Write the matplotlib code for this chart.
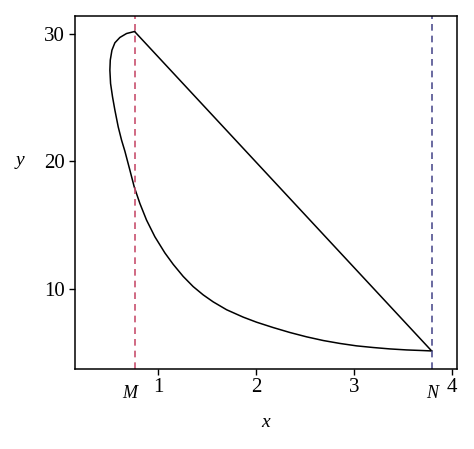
import numpy as np
import matplotlib
matplotlib.use("Agg")
import matplotlib.pyplot as plt

plt.rcParams['font.family'] = ['Liberation Serif', 'DejaVu Serif']

# loop curve (from peak, round the left, down to N)
curve_x = [0.759, 0.677, 0.609, 0.558, 0.528, 0.511, 0.507, 0.514, 0.534, 0.558,
           0.592, 0.626, 0.660, 0.711, 0.755, 0.813, 0.881, 0.966, 1.068, 1.153,
           1.255, 1.357, 1.459, 1.561, 1.698, 1.867, 2.004, 2.173, 2.344, 2.514,
           2.684, 2.854, 3.024, 3.194, 3.364, 3.535, 3.704, 3.79]
curve_y = [30.21, 30.05, 29.74, 29.32, 28.74, 27.96, 27.17, 26.12, 25.07, 24.03,
           22.71, 21.67, 20.80, 19.31, 18.0, 16.69, 15.38, 14.07, 12.80, 11.90,
           10.95, 10.15, 9.50, 8.95, 8.33, 7.75, 7.35, 6.93, 6.54, 6.20,
           5.91, 5.68, 5.49, 5.36, 5.25, 5.17, 5.12, 5.09]
# straight segment from N back to the peak
line_x = [3.79, 0.759]
line_y = [5.09, 30.21]

M = 0.762
N = 3.79
xticks = [1, 2, 3, 4]
yticks = [10, 20, 30]

fig = plt.figure(figsize=(4.74, 4.49), dpi=100)
ax = fig.add_axes([0.158, 0.179, 0.806, 0.786])

ax.plot(curve_x, curve_y, color='black', lw=1.1)
ax.plot(line_x, line_y, color='black', lw=1.1)
ax.axvline(M, color='#c8506e', ls=(0, (4, 3)), lw=1.2)
ax.axvline(N, color='#505090', ls=(0, (4, 3)), lw=1.2)

ax.set_xlim(0.15, 4.048)
ax.set_ylim(3.70, 31.45)
ax.set_xticks(xticks)
ax.set_yticks(yticks)
ax.tick_params(direction='out', length=4, width=1, labelsize=15, pad=3)
for s in ax.spines.values():
    s.set_linewidth(1.1)

ax.text(M - 0.05, -0.045, 'M', transform=ax.get_xaxis_transform(), ha='center',
        va='top', style='italic', fontsize=13)
ax.text(N, -0.045, 'N', transform=ax.get_xaxis_transform(), ha='center',
        va='top', style='italic', fontsize=13)

ax.set_xlabel('x', style='italic', fontsize=14, labelpad=12)
ax.set_ylabel('y', style='italic', fontsize=14, rotation=0)
ax.yaxis.set_label_coords(-0.144, 0.565)

fig.savefig('out.png', dpi=100)
